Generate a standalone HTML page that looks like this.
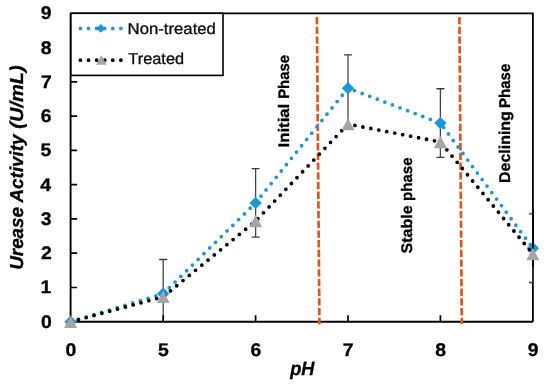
<!DOCTYPE html>
<html><head><meta charset="utf-8"><title>Urease Activity vs pH</title>
<style>html,body{margin:0;padding:0;background:#fff;width:550px;height:386px;overflow:hidden}svg{display:block}</style>
</head><body>
<svg width="550" height="386" viewBox="0 0 550 386">
<defs><clipPath id="pc"><rect x="70.6" y="13.3" width="462.30" height="308.45"/></clipPath></defs>
<rect x="0" y="0" width="550" height="386" fill="#fff"/>
<path d="M70.6,13.3H532.9V321.75" fill="none" stroke="#000" stroke-width="1.8"/>
<path d="M70.6,13.3V321.75H532.9" fill="none" stroke="#000" stroke-width="1.9"/>
<g clip-path="url(#pc)"><path d="M163.20,259.48V321.75" stroke="#454545" stroke-width="1.3"/><path d="M159.20,259.48h8" stroke="#3a3a3a" stroke-width="1.4"/><path d="M255.60,168.63V237.17" stroke="#454545" stroke-width="1.3"/><path d="M251.60,168.63h8" stroke="#3a3a3a" stroke-width="1.4"/><path d="M251.60,237.17h8" stroke="#3a3a3a" stroke-width="1.4"/><path d="M348.00,54.89V129.26" stroke="#454545" stroke-width="1.3"/><path d="M344.00,54.89h8" stroke="#3a3a3a" stroke-width="1.4"/><path d="M344.00,129.26h8" stroke="#3a3a3a" stroke-width="1.4"/><path d="M440.40,88.82V157.36" stroke="#454545" stroke-width="1.3"/><path d="M436.40,88.82h8" stroke="#3a3a3a" stroke-width="1.4"/><path d="M436.40,157.36h8" stroke="#3a3a3a" stroke-width="1.4"/><path d="M532.90,213.90V282.44" stroke="#454545" stroke-width="1.3"/><path d="M528.90,213.90h8" stroke="#3a3a3a" stroke-width="1.4"/><path d="M528.90,282.44h8" stroke="#3a3a3a" stroke-width="1.4"/></g>
<path d="M70.6,287.48h6.5M70.6,253.21h6.5M70.6,218.94h6.5M70.6,184.67h6.5M70.6,150.40h6.5M70.6,116.13h6.5M70.6,81.86h6.5M70.6,47.59h6.5M163.20,321.75v-6.5M255.60,321.75v-6.5M348.00,321.75v-6.5M440.40,321.75v-6.5" stroke="#000" stroke-width="1.7"/>
<path d="M316.9,17L319.4,324.3M459.4,17L461.8,324" stroke="#e2561a" stroke-width="2.7" stroke-dasharray="7.3 2.4" fill="none"/>
<path d="M70.60,321.75 L163.20,293.75 L255.60,202.90 L348.00,88.13 L440.40,123.09 L532.90,248.17" fill="none" stroke="#1a98da" stroke-width="3.8" stroke-linecap="round" stroke-dasharray="0 8.1"/>
<path d="M70.60,315.55L76.80,321.75L70.60,327.95L64.40,321.75Z" fill="#1a98da"/><path d="M163.20,287.55L169.40,293.75L163.20,299.95L157.00,293.75Z" fill="#1a98da"/><path d="M255.60,196.70L261.80,202.90L255.60,209.10L249.40,202.90Z" fill="#1a98da"/><path d="M348.00,81.93L354.20,88.13L348.00,94.33L341.80,88.13Z" fill="#1a98da"/><path d="M440.40,116.89L446.60,123.09L440.40,129.29L434.20,123.09Z" fill="#1a98da"/><path d="M532.90,241.97L539.10,248.17L532.90,254.37L526.70,248.17Z" fill="#1a98da"/>
<path d="M532.9,208.66V266.92" stroke="#000" stroke-width="1.8"/>
<path d="M70.60,321.75 L163.20,296.84 L255.60,221.10 L348.00,124.11 L440.40,141.94 L532.90,254.00" fill="none" stroke="#000" stroke-width="3.8" stroke-linecap="round" stroke-dasharray="0 8.1"/>
<path d="M70.60,315.55L77.10,327.95L64.10,327.95Z" fill="#a5a5a5"/><path d="M163.20,290.64L169.70,303.04L156.70,303.04Z" fill="#a5a5a5"/><path d="M255.60,214.90L262.10,227.30L249.10,227.30Z" fill="#a5a5a5"/><path d="M348.00,117.91L354.50,130.31L341.50,130.31Z" fill="#a5a5a5"/><path d="M440.40,135.74L446.90,148.14L433.90,148.14Z" fill="#a5a5a5"/><path d="M532.90,247.80L539.40,260.20L526.40,260.20Z" fill="#a5a5a5"/>
<rect x="70.9" y="13.3" width="152.1" height="62.1" fill="#fff" stroke="#000" stroke-width="1.6"/>
<path d="M80.4,28.4H121" stroke="#1a98da" stroke-width="3.8" stroke-linecap="round" stroke-dasharray="0 8.1"/>
<path d="M100.80,24.00L105.20,28.40L100.80,32.80L96.40,28.40Z" fill="#1a98da"/>
<path d="M80.4,60.2H121" stroke="#000" stroke-width="3.8" stroke-linecap="round" stroke-dasharray="0 8.1"/>
<path d="M101.40,55.20L106.70,64.80L96.10,64.80Z" fill="#a5a5a5"/>
<g font-family="Liberation Sans, Arial, sans-serif" text-rendering="geometricPrecision" stroke="#000" stroke-width="0.3" stroke-linejoin="round"><text transform="translate(23.00,269.80) rotate(-90)" font-size="18.8" font-weight="bold" font-style="italic" fill="#000" textLength="62.82" lengthAdjust="spacingAndGlyphs">Urease</text>
<text transform="translate(23.00,202.50) rotate(-90)" font-size="18.8" font-weight="bold" font-style="italic" fill="#000" textLength="68.11" lengthAdjust="spacingAndGlyphs">Activity</text>
<text transform="translate(23.00,128.64) rotate(-90)" font-size="18.8" font-weight="bold" font-style="italic" fill="#000" textLength="63.30" lengthAdjust="spacingAndGlyphs">(U/mL)</text>
<text transform="translate(288.50,147.39) rotate(-90)" font-size="15.3" font-weight="bold" font-style="normal" fill="#000" textLength="43.64" lengthAdjust="spacingAndGlyphs">Initial</text>
<text transform="translate(288.50,98.87) rotate(-90)" font-size="15.3" font-weight="bold" font-style="normal" fill="#000" textLength="43.84" lengthAdjust="spacingAndGlyphs">Phase</text>
<text transform="translate(411.80,253.52) rotate(-90)" font-size="15.3" font-weight="bold" font-style="normal" fill="#000" textLength="48.17" lengthAdjust="spacingAndGlyphs">Stable</text>
<text transform="translate(411.80,200.98) rotate(-90)" font-size="15.3" font-weight="bold" font-style="normal" fill="#000" textLength="43.50" lengthAdjust="spacingAndGlyphs">phase</text>
<text transform="translate(510.00,183.02) rotate(-90)" font-size="15.6" font-weight="bold" font-style="normal" fill="#000" textLength="71.85" lengthAdjust="spacingAndGlyphs">Declining</text>
<text transform="translate(510.00,107.96) rotate(-90)" font-size="15.6" font-weight="bold" font-style="normal" fill="#000" textLength="44.20" lengthAdjust="spacingAndGlyphs">Phase</text>
<text x="127.62" y="33.50" font-size="15.8" font-weight="normal" font-style="normal" fill="#111" textLength="88.27" lengthAdjust="spacingAndGlyphs">Non-treated</text>
<text x="128.39" y="64.30" font-size="15.8" font-weight="normal" font-style="normal" fill="#111" textLength="55.72" lengthAdjust="spacingAndGlyphs">Treated</text>
<text x="290.28" y="375.30" font-size="19.2" font-weight="bold" font-style="italic" fill="#000" textLength="24.23" lengthAdjust="spacingAndGlyphs">pH</text>
<text x="40.94" y="327.75" font-size="18.3" font-weight="bold" font-style="normal" fill="#000" textLength="10.79" lengthAdjust="spacingAndGlyphs">0</text>
<text x="40.62" y="293.48" font-size="18.3" font-weight="bold" font-style="normal" fill="#000" textLength="10.79" lengthAdjust="spacingAndGlyphs">1</text>
<text x="40.94" y="259.21" font-size="18.3" font-weight="bold" font-style="normal" fill="#000" textLength="10.79" lengthAdjust="spacingAndGlyphs">2</text>
<text x="40.83" y="224.94" font-size="18.3" font-weight="bold" font-style="normal" fill="#000" textLength="10.79" lengthAdjust="spacingAndGlyphs">3</text>
<text x="40.19" y="190.67" font-size="18.3" font-weight="bold" font-style="normal" fill="#000" textLength="10.79" lengthAdjust="spacingAndGlyphs">4</text>
<text x="40.62" y="156.40" font-size="18.3" font-weight="bold" font-style="normal" fill="#000" textLength="10.79" lengthAdjust="spacingAndGlyphs">5</text>
<text x="40.83" y="122.13" font-size="18.3" font-weight="bold" font-style="normal" fill="#000" textLength="10.79" lengthAdjust="spacingAndGlyphs">6</text>
<text x="40.94" y="87.86" font-size="18.3" font-weight="bold" font-style="normal" fill="#000" textLength="10.79" lengthAdjust="spacingAndGlyphs">7</text>
<text x="40.72" y="53.59" font-size="18.3" font-weight="bold" font-style="normal" fill="#000" textLength="10.79" lengthAdjust="spacingAndGlyphs">8</text>
<text x="40.83" y="19.32" font-size="18.3" font-weight="bold" font-style="normal" fill="#000" textLength="10.79" lengthAdjust="spacingAndGlyphs">9</text>
<text x="65.55" y="355.90" font-size="18.3" font-weight="bold" font-style="normal" fill="#000" textLength="10.79" lengthAdjust="spacingAndGlyphs">0</text>
<text x="158.04" y="355.90" font-size="18.3" font-weight="bold" font-style="normal" fill="#000" textLength="10.79" lengthAdjust="spacingAndGlyphs">5</text>
<text x="250.49" y="355.90" font-size="18.3" font-weight="bold" font-style="normal" fill="#000" textLength="10.79" lengthAdjust="spacingAndGlyphs">6</text>
<text x="342.89" y="355.90" font-size="18.3" font-weight="bold" font-style="normal" fill="#000" textLength="10.79" lengthAdjust="spacingAndGlyphs">7</text>
<text x="435.29" y="355.90" font-size="18.3" font-weight="bold" font-style="normal" fill="#000" textLength="10.79" lengthAdjust="spacingAndGlyphs">8</text>
<text x="527.85" y="355.90" font-size="18.3" font-weight="bold" font-style="normal" fill="#000" textLength="10.79" lengthAdjust="spacingAndGlyphs">9</text></g>
</svg>
</body></html>
